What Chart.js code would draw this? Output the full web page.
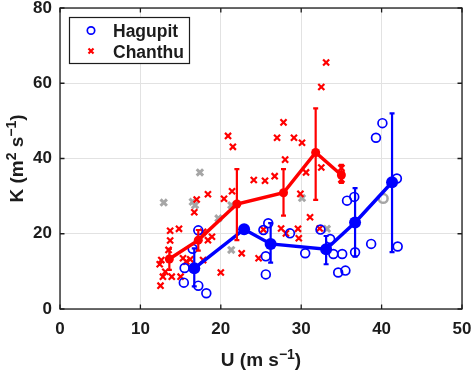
<!DOCTYPE html>
<html>
<head>
<meta charset="utf-8">
<script src="https://cdn.jsdelivr.net/npm/chart.js@4.4.1/dist/chart.umd.min.js"></script>
<style>
  html, body { margin: 0; padding: 0; background: #fff; }
  canvas { display: block; }
</style>
</head>
<body>
<canvas id="c" width="474" height="371"></canvas>
<script>
// axis ticks
const xTicks = [0, 10, 20, 30, 40, 50];
const yTicks = [0, 20, 40, 60, 80];

// Hagupit samples (U, K)
const hagU = [17.2, 16.5, 15.5, 15.4, 17.2, 18.2, 25.9, 25.3, 28.6, 25.6, 25.6, 30.5, 32.4, 33.6,
  34.0, 35.1, 34.6, 35.5, 35.7, 36.6, 36.7, 38.7, 41.9, 42.0, 40.1, 39.3];
const hagK = [20.9, 16.0, 10.9, 7.0, 6.2, 4.2, 22.8, 21.0, 20.1, 14.0, 9.2, 14.8, 21.1, 18.6,
  14.6, 14.6, 9.7, 10.2, 28.8, 29.8, 15.1, 17.3, 34.7, 16.6, 49.4, 45.5];

// Chanthu samples (U, K)
const chaU = [20.9, 21.5, 13.7, 14.8, 13.7, 13.5, 12.6, 12.4, 13.1, 12.8, 13.9, 12.5, 15.0, 15.3,
  15.7, 16.2, 17.8, 18.9, 18.4, 17.8, 20.0, 17.0, 18.4, 16.7, 20.4, 21.4, 24.1, 25.5, 26.7, 28.0,
  30.6, 32.5, 29.9, 31.1, 25.3, 27.5, 28.1, 29.6, 29.7, 32.3, 24.7, 22.6, 27.8, 27.0, 29.1, 30.1,
  33.1, 32.5, 35.0, 35.0, 35.0];
const chaK = [46.0, 43.1, 20.8, 21.3, 18.2, 15.7, 13.0, 11.9, 9.9, 8.6, 8.6, 6.2, 8.6, 13.5,
  12.6, 13.2, 13.0, 19.2, 18.3, 20.5, 9.7, 29.1, 30.5, 25.7, 29.3, 31.3, 34.3, 34.1, 35.3, 39.7,
  36.3, 37.6, 30.6, 24.4, 21.1, 21.4, 20.1, 21.3, 18.8, 21.4, 13.5, 14.8, 49.6, 45.5, 45.5, 44.2,
  65.5, 59.0, 37.5, 35.8, 34.4];

// excluded samples (grey)
const greyXU = [12.9, 16.5, 16.8, 17.4, 19.7, 21.3, 21.3, 30.1, 33.2];
const greyXK = [28.3, 28.5, 27.6, 36.3, 24.1, 15.7, 27.6, 29.5, 21.3];
const greyOU = [40.2];
const greyOK = [29.4];

// bin means with error bars
const hagMeanU = [16.7, 22.9, 26.2, 33.1, 36.7, 41.3];
const hagMeanK = [10.8, 21.2, 17.3, 15.9, 23.0, 33.7];
const hagLo = [6.0, null, 12.3, 11.9, 13.9, 15.1];
const hagHi = [16.1, null, 22.8, 19.4, 32.1, 52.0];

const chaMeanU = [13.6, 17.2, 22.0, 27.8, 31.8, 35.0];
const chaMeanK = [13.3, 18.3, 27.9, 30.9, 41.6, 35.6];
const chaLo = [10.4, 15.5, 18.3, 24.8, 29.0, 33.5];
const chaHi = [16.0, 21.0, 37.2, 37.2, 53.3, 38.3];

const BLUE = '#0000ff', RED = '#ff0000', GREY = '#a6a6a6', INK = '#1c1c1c';
const FONT = '"Liberation Sans", Arial, sans-serif';

const pts = (xs, ys) => xs.map((x, i) => ({ x, y: ys[i] }));

// error bars drawn through the scales
const errorBars = {
  id: 'errorBars',
  afterDatasetsDraw(chart) {
    const { ctx, scales: { x, y } } = chart;
    ctx.save();
    chart.data.datasets.forEach(ds => {
      if (!ds.lo) return;
      ctx.strokeStyle = ds.borderColor;
      ctx.lineWidth = 2.2;
      ds.data.forEach((p, i) => {
        if (ds.lo[i] == null) return;
        const px = x.getPixelForValue(p.x);
        const y0 = y.getPixelForValue(ds.lo[i]), y1 = y.getPixelForValue(ds.hi[i]);
        ctx.beginPath();
        ctx.moveTo(px, y0); ctx.lineTo(px, y1);
        ctx.moveTo(px - 2.5, y0); ctx.lineTo(px + 2.5, y0);
        ctx.moveTo(px - 2.5, y1); ctx.lineTo(px + 2.5, y1);
        ctx.stroke();
      });
    });
    ctx.restore();
  }
};

// text with superscripts
function richText(ctx, parts, size, supSize) {
  let w = 0;
  parts.forEach(p => {
    ctx.font = `bold ${p.sup ? supSize : size}px ${FONT}`;
    p.w = ctx.measureText(p.t).width;
    w += p.w;
  });
  let cx = -w / 2;
  parts.forEach(p => {
    ctx.font = `bold ${p.sup ? supSize : size}px ${FONT}`;
    ctx.fillText(p.t, cx, p.sup ? -7.5 : 0);
    cx += p.w;
  });
}

// MATLAB-style box, inward ticks, axis titles, legend
const decor = {
  id: 'decor',
  afterDraw(chart) {
    const { ctx, chartArea: a, scales: { x, y } } = chart;
    ctx.save();
    ctx.strokeStyle = INK;
    ctx.lineWidth = 1.3;
    ctx.strokeRect(a.left, a.top, a.right - a.left, a.bottom - a.top);
    ctx.beginPath();
    xTicks.forEach(v => {
      const px = x.getPixelForValue(v);
      ctx.moveTo(px, a.bottom); ctx.lineTo(px, a.bottom - 4.5);
      ctx.moveTo(px, a.top); ctx.lineTo(px, a.top + 4.5);
    });
    yTicks.forEach(v => {
      const py = y.getPixelForValue(v);
      ctx.moveTo(a.left, py); ctx.lineTo(a.left + 4.5, py);
      ctx.moveTo(a.right, py); ctx.lineTo(a.right - 4.5, py);
    });
    ctx.stroke();

    ctx.fillStyle = INK;
    ctx.textBaseline = 'alphabetic';
    ctx.save();
    ctx.translate((a.left + a.right) / 2, 366);
    richText(ctx, [{ t: 'U (m s' }, { t: '\u22121', sup: true }, { t: ')' }], 19, 14);
    ctx.restore();
    ctx.save();
    ctx.translate(23, (a.top + a.bottom) / 2);
    ctx.rotate(-Math.PI / 2);
    richText(ctx, [{ t: 'K (m' }, { t: '2', sup: true }, { t: ' s' }, { t: '\u22121', sup: true }, { t: ')' }], 19, 14);
    ctx.restore();

    // legend
    ctx.fillStyle = '#fff';
    ctx.fillRect(69.5, 17.5, 120, 46);
    ctx.strokeStyle = INK;
    ctx.lineWidth = 1.2;
    ctx.strokeRect(69.5, 17.5, 120, 46);
    const items = chart.data.datasets.filter(d => d.inLegend);
    items.forEach((d, i) => {
      const cy = 30.5 + i * 20.5;
      ctx.strokeStyle = d.borderColor;
      ctx.lineWidth = d.pointBorderWidth;
      ctx.beginPath();
      if (d.pointStyle === 'circle') {
        ctx.arc(91, cy, 3.7, 0, Math.PI * 2);
      } else {
        ctx.moveTo(88.5, cy - 2.5); ctx.lineTo(93.5, cy + 2.5);
        ctx.moveTo(88.5, cy + 2.5); ctx.lineTo(93.5, cy - 2.5);
      }
      ctx.stroke();
      ctx.fillStyle = INK;
      ctx.font = `bold 17.5px ${FONT}`;
      ctx.fillText(d.label, 113, cy + 6.5);
    });
    ctx.restore();
  }
};

new Chart(document.getElementById('c'), {
  type: 'scatter',
  data: {
    datasets: [
      {
        type: 'line', label: 'Hagupit mean', data: pts(hagMeanU, hagMeanK),
        lo: hagLo, hi: hagHi, order: 0,
        borderColor: BLUE, backgroundColor: BLUE, borderWidth: 3.5,
        pointRadius: 6, pointBorderWidth: 0, showLine: true, fill: false,
      },
      {
        type: 'line', label: 'Chanthu mean', data: pts(chaMeanU, chaMeanK),
        lo: chaLo, hi: chaHi, order: 1,
        borderColor: RED, backgroundColor: RED, borderWidth: 3.5,
        pointRadius: 4.5, pointBorderWidth: 0, showLine: true, fill: false,
      },
      {
        label: 'Hagupit', data: pts(hagU, hagK), inLegend: true, order: 2,
        pointStyle: 'circle', pointRadius: 4.4, pointBorderWidth: 1.7,
        borderColor: BLUE, backgroundColor: 'rgba(0,0,0,0)',
      },
      {
        label: 'Chanthu', data: pts(chaU, chaK), inLegend: true, order: 3,
        pointStyle: 'crossRot', pointRadius: 4.3, pointBorderWidth: 2.2,
        borderColor: RED, backgroundColor: RED,
      },
      {
        label: 'excluded x', data: pts(greyXU, greyXK), order: 4,
        pointStyle: 'crossRot', pointRadius: 4.5, pointBorderWidth: 3,
        borderColor: GREY, backgroundColor: GREY,
      },
      {
        label: 'excluded o', data: pts(greyOU, greyOK), order: 5,
        pointStyle: 'circle', pointRadius: 4.4, pointBorderWidth: 2.5,
        borderColor: GREY, backgroundColor: 'rgba(0,0,0,0)',
      },
    ],
  },
  options: {
    responsive: false,
    devicePixelRatio: 1,
    animation: false,
    layout: { padding: { top: 8, right: 12, left: 0, bottom: 0 } },
    plugins: { legend: { display: false }, tooltip: { enabled: false } },
    scales: {
      x: {
        type: 'linear', min: 0, max: 50,
        afterBuildTicks: s => { s.ticks = xTicks.map(v => ({ value: v })); },
        afterFit: s => { s.height = 62; s.paddingLeft = 0; s.paddingRight = 0; },
        grid: { color: '#e2e2e2', lineWidth: 1, drawTicks: false },
        border: { display: false },
        ticks: { color: INK, padding: 10, maxRotation: 0, font: { family: FONT, size: 17, weight: 'bold' } },
      },
      y: {
        type: 'linear', min: 0, max: 80,
        afterBuildTicks: s => { s.ticks = yTicks.map(v => ({ value: v })); },
        afterFit: s => { s.width = 60; s.paddingTop = 0; s.paddingBottom = 0; },
        grid: { color: '#e2e2e2', lineWidth: 1, drawTicks: false },
        border: { display: false },
        ticks: { color: INK, padding: 8, font: { family: FONT, size: 17, weight: 'bold' } },
      },
    },
  },
  plugins: [errorBars, decor],
});
</script>
</body>
</html>
